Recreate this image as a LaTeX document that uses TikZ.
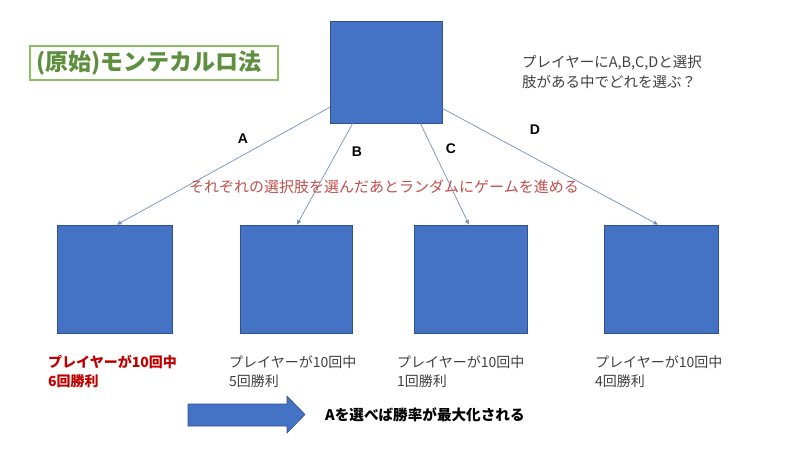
\documentclass[tikz,border=0pt]{standalone}
\usepackage{fontspec}
\setmainfont{Noto Sans CJK JP}
\newfontfamily\latinb{Liberation Sans}
\usetikzlibrary{arrows.meta,calc}
\definecolor{boxfill}{HTML}{4472C4}
\definecolor{boxline}{HTML}{2F528F}
\definecolor{edgecol}{HTML}{7490C0}
\definecolor{titlegreen}{HTML}{5E8F3E}
\definecolor{titleframe}{HTML}{8DBF62}
\definecolor{redtxt}{HTML}{C0504D}
\definecolor{redbold}{HTML}{C00000}
\definecolor{graytxt}{HTML}{404040}
\begin{document}
\begin{tikzpicture}[x=1pt,y=-1pt,
  bluebox/.style={draw=boxline,fill=boxfill,line width=0.8pt,inner sep=0pt},
  edge/.style={draw=edgecol,line width=0.7pt,-{Triangle[length=4.5pt,width=4pt]}},
  letter/.style={font=\latinb\bfseries\fontsize{14}{16}\selectfont,inner sep=0pt},
  lbl/.style={anchor=west,inner sep=0pt,align=left,font=\fontsize{14}{19}\selectfont}
]
\path[fill=white,use as bounding box] (0,0) rectangle (800,450);
% title
\node[draw=titleframe,line width=2.5pt,minimum width=248pt,minimum height=34pt,inner sep=0pt] (title) at (154,63) {};
\node[anchor=west,inner sep=0pt,text=titlegreen,font=\bfseries\fontsize{23}{25}\selectfont] (titletxt) at (36,63) {(原始)モンテカルロ法};
% boxes
\node[bluebox,minimum width=112pt,minimum height=102pt] (top) at (386,72) {};
\node[bluebox,minimum width=115pt,minimum height=108pt] (A) at (114.5,279) {};
\node[bluebox,minimum width=112pt,minimum height=108pt] (B) at (296,279) {};
\node[bluebox,minimum width=113pt,minimum height=108pt] (C) at (470.5,279) {};
\node[bluebox,minimum width=114pt,minimum height=108pt] (D) at (661,279) {};
% edges
\draw[edge] ([yshift=16pt]top.south west) -- ([xshift=2.5pt]A.north);
\draw[edge] ([xshift=23pt]top.south west) -- ([xshift=1pt]B.north);
\draw[edge] ([xshift=-22pt]top.south east) -- ([xshift=-1.5pt]C.north);
\draw[edge] ([yshift=15pt]top.south east) -- ([xshift=-3pt]D.north);
% letters
\node[letter] (la) at (243,139) {A};
\node[letter] (lb) at (357,152) {B};
\node[letter] (lc) at (451,149) {C};
\node[letter] (ld) at (535,130) {D};
% question
\node[lbl,text=graytxt,font=\fontsize{14.5}{20}\selectfont] (q) at (522,72) {プレイヤーにA,B,C,Dと選択\\肢がある中でどれを選ぶ？};
% red line
\node[inner sep=0pt,text=redtxt,font=\fontsize{15}{17}\selectfont] (rand) at (384,187) {それぞれの選択肢を選んだあとランダムにゲームを進める};
% results
\node[lbl,text=redbold,font=\bfseries\fontsize{14}{19}\selectfont] (ra) at (48,371.5) {プレイヤーが10回中\\6回勝利};
\node[lbl,text=graytxt] (rb) at (229,371.5) {プレイヤーが10回中\\5回勝利};
\node[lbl,text=graytxt] (rc) at (397,371.5) {プレイヤーが10回中\\1回勝利};
\node[lbl,text=graytxt] (rd) at (595,371.5) {プレイヤーが10回中\\4回勝利};
% big arrow
\draw[fill=boxfill,draw=boxline,line width=0.6pt] (188,404) -- (287,404) -- (287,396) -- (305,414.5) -- (287,433) -- (287,426) -- (188,426) -- cycle;
\node[anchor=west,inner sep=0pt,font=\bfseries\fontsize{14.6}{16}\selectfont] (concl) at (325,415) {Aを選べば勝率が最大化される};
\end{tikzpicture}
\end{document}
